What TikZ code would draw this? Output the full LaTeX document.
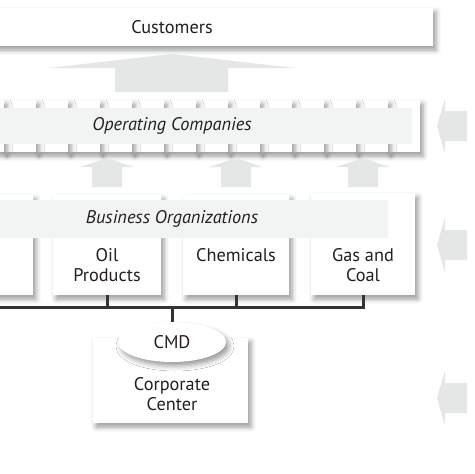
\documentclass[tikz,border=0pt]{standalone}
\usepackage{fontspec}
\setmainfont{PT Sans}
\usepackage{xcolor}
\definecolor{bandgray}{RGB}{242,243,243}
\definecolor{flowgray}{RGB}{228,231,230}
\definecolor{linegray}{RGB}{51,51,51}
\definecolor{textgray}{RGB}{35,31,32}
\usepackage{tikz}
\usetikzlibrary{
    shapes.geometric,
    positioning,
    shadows.blur
}
\newdimen\pxu \pxu=0.25mm
\newcommand\diagfont{\fontsize{13}{14.2}\selectfont}
\tikzstyle{soft} = [
    blur shadow={shadow xshift=3\pxu, shadow yshift=-4\pxu,
                 shadow blur radius=5\pxu, shadow opacity=40}
]
\tikzstyle{card} = [
    rectangle,
    fill=white,
    inner sep=0pt,
    text=textgray,
    align=center,
    font=\diagfont,
    soft
]
\tikzstyle{band} = [
    rectangle,
    fill=bandgray,
    inner sep=0pt,
    text=textgray,
    font=\diagfont\itshape
]
\tikzstyle{lbl} = [
    align=center,
    inner sep=0pt,
    text=textgray,
    font=\diagfont
]
\tikzstyle{bus} = [
    draw=linegray,
    line width=3\pxu
]
\tikzstyle{flow} = [
    fill=flowgray
]
\begin{document}
\begin{tikzpicture}[x=\pxu, y=-\pxu]

\clip (0,0) rectangle (474,474);

\node (cust) [card, minimum width=522\pxu, minimum height=38\pxu] at (172,27)
    {Customers};

% grosser Pfeil nach oben
\fill [flow] (115,92) -- (115,68) -- (48,68) -- (172,54)
             -- (295,68) -- (228,68) -- (228,92) -- cycle;

% gestapelte Karten
\foreach \i in {13,12,...,0}
    \fill [white, soft] (-28+32*\i,100) rectangle ++(32,52);
\node (opco) [band, minimum width=480\pxu, minimum height=36\pxu] at (172,126)
    {Operating Companies};

\foreach \x in {107,236,363}
    \fill [flow] (\x-15,187) -- (\x-15,167) -- (\x-27,167) -- (\x,158)
                 -- (\x+27,167) -- (\x+15,167) -- (\x+15,187) -- cycle;

\node (bizA) [card, minimum width=100\pxu, minimum height=100\pxu] at (-17,245) {};
\node (oil)  [card, minimum width=108\pxu, minimum height=100\pxu] at (107,245) {};
\node (chem) [card, minimum width=106\pxu, minimum height=100\pxu] at (236,245) {};
\node (gas)  [card, minimum width=104\pxu, minimum height=102\pxu] at (363,244) {};

\node (bizorg) [band, minimum width=432\pxu, minimum height=38\pxu] at (172,219)
    {Business Organizations};

\node (oiltxt)  [lbl, anchor=north] at (107,248) {Oil\\Products};
\node (chemtxt) [lbl, anchor=north] at (236,248) {Chemicals};
\node (gastxt)  [lbl, anchor=north] at (363,248) {Gas and\\Coal};

\node (corp) [card, minimum width=155\pxu, minimum height=85\pxu] at (170.5,380.5) {};
\node (corptxt) [lbl] at (172,394) {Corporate\\Center};
\node (cmd) [card, ellipse, minimum width=108\pxu, minimum height=40\pxu] at (172,342)
    {CMD};

% Verbindungen
\coordinate (busL) at (0,307);
\draw [bus] (busL) -| (gas.south);
\draw [bus] (oil.south) -- (oil.south |- busL);
\draw [bus] (chem.south) -- (chem.south |- busL);
\draw [bus] (cmd.north) -- (cmd.north |- busL);

% Pfeile rechts
\foreach \y in {126,245,398}
    \fill [flow] (467,\y-15) -- (445,\y-15) -- (445,\y-28) -- (437,\y)
                 -- (445,\y+28) -- (445,\y+15) -- (467,\y+15) -- cycle;

\end{tikzpicture}
\end{document}
